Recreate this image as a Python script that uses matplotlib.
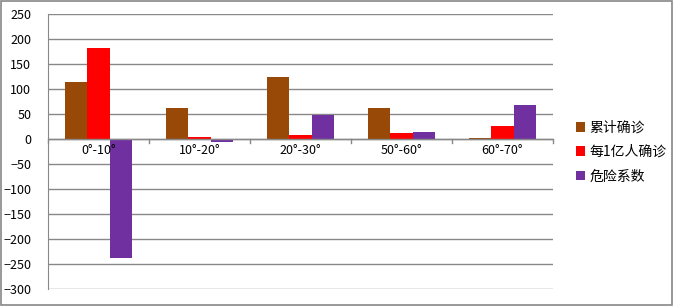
import matplotlib
matplotlib.use("Agg")
import matplotlib.pyplot as plt
import numpy as np

plt.rcParams['font.family'] = ['Noto Sans CJK SC', 'DejaVu Sans']

categories = ["0°-10°", "10°-20°", "20°-30°", "50°-60°", "60°-70°"]
series_names = ["累计确诊", "每1亿人确诊", "危险系数"]
cumulative = [114, 62, 124, 62, 2]
per_100m = [182, 5, 8, 12, 26]
risk = [-237, -5, 48, 14, 68]
colors = ["#984807", "#FF0000", "#7030A0"]

fig = plt.figure(figsize=(6.73, 3.06), dpi=100)
ax = fig.add_axes([48/673, 1-289/306, (553-48)/673, (289-14)/306])

x = np.arange(len(categories))
w = 0.222
for i, (vals, c, name) in enumerate(zip([cumulative, per_100m, risk], colors, series_names)):
    ax.bar(x + (i-1)*w, vals, width=w, color=c, label=name, zorder=3)

ax.set_xlim(-0.5, len(categories)-0.5)
ax.set_ylim(-300, 250)
ax.set_yticks(range(-300, 251, 50))
ax.yaxis.grid(True, color="#888888", linewidth=1, zorder=0)
ax.tick_params(axis='y', length=0, labelsize=9, pad=12, colors='black')
for s in ["top", "right", "bottom"]:
    ax.spines[s].set_visible(False)
ax.spines["left"].set_color("#888888")
ax.axhline(0, color="#888888", linewidth=1, zorder=4)
ax.set_xticks([])
# category boundary ticks on zero line
for b in np.arange(-0.5, len(categories), 1.0):
    ax.plot([b, b], [0, -8], color="#888888", linewidth=1, zorder=4, clip_on=False)
for xi, lab in zip(x, categories):
    ax.text(xi, -10, lab, ha="center", va="top", fontsize=9, zorder=5)

ax.legend(loc="center left", bbox_to_anchor=(563/673, 1-152/306), bbox_transform=fig.transFigure,
          frameon=False, fontsize=10, handlelength=0.7, handleheight=0.7,
          handletextpad=0.3, labelspacing=0.75)

fig.add_artist(plt.Rectangle((0.001, 0.002), 0.997, 0.995, transform=fig.transFigure,
                             fill=False, edgecolor="#888888", linewidth=1.2))
fig.savefig("out.png", dpi=100)
